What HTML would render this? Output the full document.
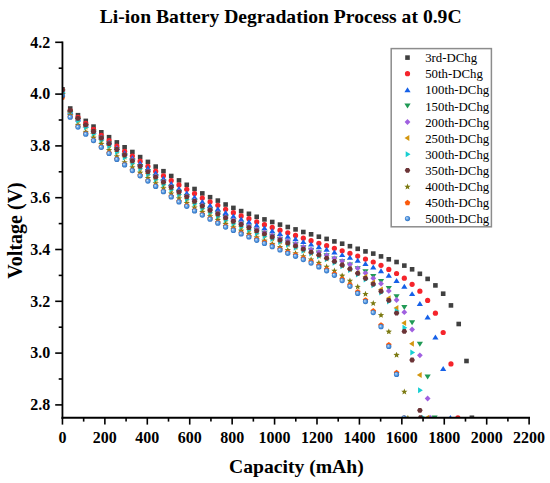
<!DOCTYPE html>
<html><head><meta charset="utf-8"><style>
html,body{margin:0;padding:0;background:#fff;}
svg{display:block;}
.tt{font-family:"Liberation Serif",serif;font-weight:bold;font-size:20px;fill:#000;}
.t1{font-family:"Liberation Serif",serif;font-weight:bold;font-size:19.65px;fill:#000;}
.tl{font-family:"Liberation Serif",serif;font-weight:bold;font-size:16px;fill:#000;}
.lt{font-family:"Liberation Serif",serif;font-size:12.8px;fill:#000;}
</style></head><body>
<svg width="550" height="483" viewBox="0 0 550 483">
<defs>
<clipPath id="pc"><rect x="62.45" y="0" width="480" height="417.60"/></clipPath>
<radialGradient id="ball" cx="0.5" cy="0.5" r="0.55" fx="0.36" fy="0.36"><stop offset="0" stop-color="#f2f8ff"/><stop offset="0.3" stop-color="#7fb2ea"/><stop offset="0.7" stop-color="#3f86d6"/><stop offset="1" stop-color="#2e6cb5"/></radialGradient>
</defs>
<rect width="550" height="483" fill="#fff"/>
<g clip-path="url(#pc)"><rect x="60.15" y="87.00" width="4.60" height="4.60" fill="#404040"/><rect x="67.92" y="106.20" width="4.60" height="4.60" fill="#404040"/><rect x="75.69" y="112.90" width="4.60" height="4.60" fill="#404040"/><rect x="83.46" y="118.60" width="4.60" height="4.60" fill="#404040"/><rect x="91.23" y="124.30" width="4.60" height="4.60" fill="#404040"/><rect x="99.00" y="130.00" width="4.60" height="4.60" fill="#404040"/><rect x="106.77" y="134.90" width="4.60" height="4.60" fill="#404040"/><rect x="114.54" y="140.10" width="4.60" height="4.60" fill="#404040"/><rect x="122.31" y="145.00" width="4.60" height="4.60" fill="#404040"/><rect x="130.08" y="149.70" width="4.60" height="4.60" fill="#404040"/><rect x="137.85" y="154.80" width="4.60" height="4.60" fill="#404040"/><rect x="145.62" y="159.60" width="4.60" height="4.60" fill="#404040"/><rect x="153.39" y="164.30" width="4.60" height="4.60" fill="#404040"/><rect x="161.16" y="168.90" width="4.60" height="4.60" fill="#404040"/><rect x="168.93" y="173.70" width="4.60" height="4.60" fill="#404040"/><rect x="176.70" y="178.10" width="4.60" height="4.60" fill="#404040"/><rect x="184.47" y="182.50" width="4.60" height="4.60" fill="#404040"/><rect x="192.24" y="186.70" width="4.60" height="4.60" fill="#404040"/><rect x="200.01" y="191.10" width="4.60" height="4.60" fill="#404040"/><rect x="207.78" y="194.90" width="4.60" height="4.60" fill="#404040"/><rect x="215.55" y="198.30" width="4.60" height="4.60" fill="#404040"/><rect x="223.32" y="202.20" width="4.60" height="4.60" fill="#404040"/><rect x="231.09" y="205.60" width="4.60" height="4.60" fill="#404040"/><rect x="238.86" y="208.80" width="4.60" height="4.60" fill="#404040"/><rect x="246.63" y="211.50" width="4.60" height="4.60" fill="#404040"/><rect x="254.40" y="214.50" width="4.60" height="4.60" fill="#404040"/><rect x="262.17" y="217.10" width="4.60" height="4.60" fill="#404040"/><rect x="269.94" y="219.70" width="4.60" height="4.60" fill="#404040"/><rect x="277.71" y="222.30" width="4.60" height="4.60" fill="#404040"/><rect x="285.48" y="224.70" width="4.60" height="4.60" fill="#404040"/><rect x="293.25" y="227.10" width="4.60" height="4.60" fill="#404040"/><rect x="301.02" y="229.70" width="4.60" height="4.60" fill="#404040"/><rect x="308.79" y="232.00" width="4.60" height="4.60" fill="#404040"/><rect x="316.56" y="234.40" width="4.60" height="4.60" fill="#404040"/><rect x="324.33" y="236.60" width="4.60" height="4.60" fill="#404040"/><rect x="332.10" y="239.10" width="4.60" height="4.60" fill="#404040"/><rect x="339.87" y="241.40" width="4.60" height="4.60" fill="#404040"/><rect x="347.64" y="243.90" width="4.60" height="4.60" fill="#404040"/><rect x="355.41" y="246.50" width="4.60" height="4.60" fill="#404040"/><rect x="363.18" y="249.10" width="4.60" height="4.60" fill="#404040"/><rect x="370.95" y="251.30" width="4.60" height="4.60" fill="#404040"/><rect x="378.72" y="254.10" width="4.60" height="4.60" fill="#404040"/><rect x="386.49" y="257.00" width="4.60" height="4.60" fill="#404040"/><rect x="394.26" y="259.70" width="4.60" height="4.60" fill="#404040"/><rect x="402.03" y="263.30" width="4.60" height="4.60" fill="#404040"/><rect x="409.80" y="267.00" width="4.60" height="4.60" fill="#404040"/><rect x="417.57" y="271.50" width="4.60" height="4.60" fill="#404040"/><rect x="425.34" y="276.60" width="4.60" height="4.60" fill="#404040"/><rect x="433.11" y="283.10" width="4.60" height="4.60" fill="#404040"/><rect x="440.88" y="291.40" width="4.60" height="4.60" fill="#404040"/><rect x="448.65" y="303.10" width="4.60" height="4.60" fill="#404040"/><rect x="456.42" y="321.70" width="4.60" height="4.60" fill="#404040"/><rect x="464.19" y="358.70" width="4.60" height="4.60" fill="#404040"/><rect x="469.60" y="415.45" width="4.60" height="4.60" fill="#404040"/><circle cx="62.45" cy="90.30" r="2.60" fill="#f5242b"/><circle cx="70.22" cy="110.50" r="2.60" fill="#f5242b"/><circle cx="77.99" cy="117.45" r="2.60" fill="#f5242b"/><circle cx="85.76" cy="123.40" r="2.60" fill="#f5242b"/><circle cx="93.53" cy="129.40" r="2.60" fill="#f5242b"/><circle cx="101.30" cy="135.40" r="2.60" fill="#f5242b"/><circle cx="109.07" cy="140.60" r="2.60" fill="#f5242b"/><circle cx="116.84" cy="146.10" r="2.60" fill="#f5242b"/><circle cx="124.61" cy="151.30" r="2.60" fill="#f5242b"/><circle cx="132.38" cy="156.05" r="2.60" fill="#f5242b"/><circle cx="140.15" cy="161.20" r="2.60" fill="#f5242b"/><circle cx="147.92" cy="166.25" r="2.60" fill="#f5242b"/><circle cx="155.69" cy="171.20" r="2.60" fill="#f5242b"/><circle cx="163.46" cy="175.77" r="2.60" fill="#f5242b"/><circle cx="171.23" cy="180.53" r="2.60" fill="#f5242b"/><circle cx="179.00" cy="184.90" r="2.60" fill="#f5242b"/><circle cx="186.77" cy="189.34" r="2.60" fill="#f5242b"/><circle cx="194.54" cy="193.58" r="2.60" fill="#f5242b"/><circle cx="202.31" cy="198.02" r="2.60" fill="#f5242b"/><circle cx="210.08" cy="201.86" r="2.60" fill="#f5242b"/><circle cx="217.85" cy="205.30" r="2.60" fill="#f5242b"/><circle cx="225.62" cy="209.25" r="2.60" fill="#f5242b"/><circle cx="233.39" cy="212.70" r="2.60" fill="#f5242b"/><circle cx="241.16" cy="215.95" r="2.60" fill="#f5242b"/><circle cx="248.93" cy="218.70" r="2.60" fill="#f5242b"/><circle cx="256.70" cy="221.88" r="2.60" fill="#f5242b"/><circle cx="264.47" cy="224.66" r="2.60" fill="#f5242b"/><circle cx="272.24" cy="227.44" r="2.60" fill="#f5242b"/><circle cx="280.01" cy="230.22" r="2.60" fill="#f5242b"/><circle cx="287.78" cy="232.80" r="2.60" fill="#f5242b"/><circle cx="295.55" cy="235.40" r="2.60" fill="#f5242b"/><circle cx="303.32" cy="238.20" r="2.60" fill="#f5242b"/><circle cx="311.09" cy="240.70" r="2.60" fill="#f5242b"/><circle cx="318.86" cy="243.30" r="2.60" fill="#f5242b"/><circle cx="326.63" cy="245.65" r="2.60" fill="#f5242b"/><circle cx="334.40" cy="248.30" r="2.60" fill="#f5242b"/><circle cx="342.17" cy="250.75" r="2.60" fill="#f5242b"/><circle cx="349.94" cy="253.40" r="2.60" fill="#f5242b"/><circle cx="357.71" cy="256.10" r="2.60" fill="#f5242b"/><circle cx="365.48" cy="259.10" r="2.60" fill="#f5242b"/><circle cx="373.25" cy="262.00" r="2.60" fill="#f5242b"/><circle cx="381.02" cy="265.30" r="2.60" fill="#f5242b"/><circle cx="388.79" cy="269.40" r="2.60" fill="#f5242b"/><circle cx="396.56" cy="273.50" r="2.60" fill="#f5242b"/><circle cx="404.33" cy="278.20" r="2.60" fill="#f5242b"/><circle cx="412.10" cy="284.30" r="2.60" fill="#f5242b"/><circle cx="419.87" cy="291.20" r="2.60" fill="#f5242b"/><circle cx="427.64" cy="300.40" r="2.60" fill="#f5242b"/><circle cx="435.41" cy="313.20" r="2.60" fill="#f5242b"/><circle cx="443.18" cy="332.50" r="2.60" fill="#f5242b"/><circle cx="450.95" cy="363.90" r="2.60" fill="#f5242b"/><circle cx="457.90" cy="417.75" r="2.60" fill="#f5242b"/><path d="M62.45 88.66L65.55 93.62L59.35 93.62Z" fill="#1560e8"/><path d="M70.22 109.36L73.32 114.33L67.12 114.33Z" fill="#1560e8"/><path d="M77.99 116.44L81.09 121.40L74.89 121.40Z" fill="#1560e8"/><path d="M85.76 122.52L88.86 127.48L82.66 127.48Z" fill="#1560e8"/><path d="M93.53 128.59L96.63 133.55L90.43 133.55Z" fill="#1560e8"/><path d="M101.30 134.67L104.40 139.62L98.20 139.62Z" fill="#1560e8"/><path d="M109.07 139.76L112.17 144.72L105.97 144.72Z" fill="#1560e8"/><path d="M116.84 145.17L119.94 150.12L113.74 150.12Z" fill="#1560e8"/><path d="M124.61 150.27L127.71 155.22L121.51 155.22Z" fill="#1560e8"/><path d="M132.38 155.17L135.48 160.12L129.28 160.12Z" fill="#1560e8"/><path d="M140.15 160.47L143.25 165.42L137.05 165.42Z" fill="#1560e8"/><path d="M147.92 165.57L151.02 170.53L144.82 170.53Z" fill="#1560e8"/><path d="M155.69 170.56L158.79 175.52L152.59 175.52Z" fill="#1560e8"/><path d="M163.46 175.70L166.56 180.66L160.36 180.66Z" fill="#1560e8"/><path d="M171.23 181.03L174.33 185.99L168.13 185.99Z" fill="#1560e8"/><path d="M179.00 185.97L182.10 190.92L175.90 190.92Z" fill="#1560e8"/><path d="M186.77 190.39L189.87 195.34L183.67 195.34Z" fill="#1560e8"/><path d="M194.54 194.61L197.64 199.56L191.44 199.56Z" fill="#1560e8"/><path d="M202.31 199.03L205.41 203.98L199.21 203.98Z" fill="#1560e8"/><path d="M210.08 202.84L213.18 207.80L206.98 207.80Z" fill="#1560e8"/><path d="M217.85 206.27L220.95 211.22L214.75 211.22Z" fill="#1560e8"/><path d="M225.62 210.12L228.72 215.07L222.52 215.07Z" fill="#1560e8"/><path d="M233.39 213.47L236.49 218.42L230.29 218.42Z" fill="#1560e8"/><path d="M241.16 216.62L244.26 221.57L238.06 221.57Z" fill="#1560e8"/><path d="M248.93 219.27L252.03 224.22L245.83 224.22Z" fill="#1560e8"/><path d="M256.70 222.53L259.80 227.49L253.60 227.49Z" fill="#1560e8"/><path d="M264.47 225.39L267.57 230.34L261.37 230.34Z" fill="#1560e8"/><path d="M272.24 228.25L275.34 233.20L269.14 233.20Z" fill="#1560e8"/><path d="M280.01 231.11L283.11 236.06L276.91 236.06Z" fill="#1560e8"/><path d="M287.78 233.77L290.88 238.72L284.68 238.72Z" fill="#1560e8"/><path d="M295.55 236.37L298.65 241.32L292.45 241.32Z" fill="#1560e8"/><path d="M303.32 239.17L306.42 244.12L300.22 244.12Z" fill="#1560e8"/><path d="M311.09 241.67L314.19 246.62L307.99 246.62Z" fill="#1560e8"/><path d="M318.86 244.26L321.96 249.22L315.76 249.22Z" fill="#1560e8"/><path d="M326.63 246.77L329.73 251.72L323.53 251.72Z" fill="#1560e8"/><path d="M334.40 249.57L337.50 254.53L331.30 254.53Z" fill="#1560e8"/><path d="M342.17 252.16L345.27 257.12L339.07 257.12Z" fill="#1560e8"/><path d="M349.94 254.87L353.04 259.82L346.84 259.82Z" fill="#1560e8"/><path d="M357.71 257.76L360.81 262.72L354.61 262.72Z" fill="#1560e8"/><path d="M365.48 260.97L368.58 265.93L362.38 265.93Z" fill="#1560e8"/><path d="M373.25 264.47L376.35 269.43L370.15 269.43Z" fill="#1560e8"/><path d="M381.02 268.37L384.12 273.32L377.92 273.32Z" fill="#1560e8"/><path d="M388.79 272.76L391.89 277.72L385.69 277.72Z" fill="#1560e8"/><path d="M396.56 277.97L399.66 282.93L393.46 282.93Z" fill="#1560e8"/><path d="M404.33 283.76L407.43 288.72L401.23 288.72Z" fill="#1560e8"/><path d="M412.10 291.17L415.20 296.12L409.00 296.12Z" fill="#1560e8"/><path d="M419.87 301.06L422.97 306.02L416.77 306.02Z" fill="#1560e8"/><path d="M427.64 314.56L430.74 319.52L424.54 319.52Z" fill="#1560e8"/><path d="M435.41 334.56L438.51 339.52L432.31 339.52Z" fill="#1560e8"/><path d="M443.18 366.06L446.28 371.02L440.08 371.02Z" fill="#1560e8"/><path d="M450.40 415.12L453.50 420.07L447.30 420.07Z" fill="#1560e8"/><path d="M62.45 94.53L65.55 89.57L59.35 89.57Z" fill="#209a55"/><path d="M70.22 115.94L73.32 110.97L67.12 110.97Z" fill="#209a55"/><path d="M77.99 122.89L81.09 117.92L74.89 117.92Z" fill="#209a55"/><path d="M85.76 128.84L88.86 123.88L82.66 123.88Z" fill="#209a55"/><path d="M93.53 134.78L96.63 129.83L90.43 129.83Z" fill="#209a55"/><path d="M101.30 140.74L104.40 135.78L98.20 135.78Z" fill="#209a55"/><path d="M109.07 146.33L112.17 141.38L105.97 141.38Z" fill="#209a55"/><path d="M116.84 152.23L119.94 147.28L113.74 147.28Z" fill="#209a55"/><path d="M124.61 157.84L127.71 152.88L121.51 152.88Z" fill="#209a55"/><path d="M132.38 163.23L135.48 158.28L129.28 158.28Z" fill="#209a55"/><path d="M140.15 169.03L143.25 164.08L137.05 164.08Z" fill="#209a55"/><path d="M147.92 174.29L151.02 169.34L144.82 169.34Z" fill="#209a55"/><path d="M155.69 179.45L158.79 174.50L152.59 174.50Z" fill="#209a55"/><path d="M163.46 184.51L166.56 179.56L160.36 179.56Z" fill="#209a55"/><path d="M171.23 189.77L174.33 184.81L168.13 184.81Z" fill="#209a55"/><path d="M179.00 194.63L182.10 189.68L175.90 189.68Z" fill="#209a55"/><path d="M186.77 199.31L189.87 194.36L183.67 194.36Z" fill="#209a55"/><path d="M194.54 203.79L197.64 198.84L191.44 198.84Z" fill="#209a55"/><path d="M202.31 208.47L205.41 203.52L199.21 203.52Z" fill="#209a55"/><path d="M210.08 212.55L213.18 207.59L206.98 207.59Z" fill="#209a55"/><path d="M217.85 216.23L220.95 211.28L214.75 211.28Z" fill="#209a55"/><path d="M225.62 220.07L228.72 215.11L222.52 215.11Z" fill="#209a55"/><path d="M233.39 223.40L236.49 218.44L230.29 218.44Z" fill="#209a55"/><path d="M241.16 226.53L244.26 221.58L238.06 221.58Z" fill="#209a55"/><path d="M248.93 229.44L252.03 224.48L245.83 224.48Z" fill="#209a55"/><path d="M256.70 232.63L259.80 227.68L253.60 227.68Z" fill="#209a55"/><path d="M264.47 235.63L267.57 230.68L261.37 230.68Z" fill="#209a55"/><path d="M272.24 238.63L275.34 233.68L269.14 233.68Z" fill="#209a55"/><path d="M280.01 241.63L283.11 236.68L276.91 236.68Z" fill="#209a55"/><path d="M287.78 244.44L290.88 239.48L284.68 239.48Z" fill="#209a55"/><path d="M295.55 247.19L298.65 242.23L292.45 242.23Z" fill="#209a55"/><path d="M303.32 250.13L306.42 245.18L300.22 245.18Z" fill="#209a55"/><path d="M311.09 252.78L314.19 247.83L307.99 247.83Z" fill="#209a55"/><path d="M318.86 255.53L321.96 250.57L315.76 250.57Z" fill="#209a55"/><path d="M326.63 258.29L329.73 253.33L323.53 253.33Z" fill="#209a55"/><path d="M334.40 261.33L337.50 256.38L331.30 256.38Z" fill="#209a55"/><path d="M342.17 264.23L345.27 259.27L339.07 259.27Z" fill="#209a55"/><path d="M349.94 267.53L353.04 262.57L346.84 262.57Z" fill="#209a55"/><path d="M357.71 271.24L360.81 266.28L354.61 266.28Z" fill="#209a55"/><path d="M365.48 274.13L368.58 269.18L362.38 269.18Z" fill="#209a55"/><path d="M373.25 278.83L376.35 273.88L370.15 273.88Z" fill="#209a55"/><path d="M381.02 284.03L384.12 279.07L377.92 279.07Z" fill="#209a55"/><path d="M388.79 290.83L391.89 285.88L385.69 285.88Z" fill="#209a55"/><path d="M396.56 299.24L399.66 294.28L393.46 294.28Z" fill="#209a55"/><path d="M404.33 310.03L407.43 305.07L401.23 305.07Z" fill="#209a55"/><path d="M412.10 325.24L415.20 320.28L409.00 320.28Z" fill="#209a55"/><path d="M419.87 346.63L422.97 341.68L416.77 341.68Z" fill="#209a55"/><path d="M427.64 379.53L430.74 374.57L424.54 374.57Z" fill="#209a55"/><path d="M434.60 420.38L437.70 415.43L431.50 415.43Z" fill="#209a55"/><path d="M62.45 88.40L65.35 91.30L62.45 94.20L59.55 91.30Z" fill="#a060e0"/><path d="M70.22 109.80L73.12 112.70L70.22 115.60L67.32 112.70Z" fill="#a060e0"/><path d="M77.99 116.75L80.89 119.65L77.99 122.55L75.09 119.65Z" fill="#a060e0"/><path d="M85.76 122.70L88.66 125.60L85.76 128.50L82.86 125.60Z" fill="#a060e0"/><path d="M93.53 128.65L96.43 131.55L93.53 134.45L90.63 131.55Z" fill="#a060e0"/><path d="M101.30 134.60L104.20 137.50L101.30 140.40L98.40 137.50Z" fill="#a060e0"/><path d="M109.07 140.20L111.97 143.10L109.07 146.00L106.17 143.10Z" fill="#a060e0"/><path d="M116.84 146.10L119.74 149.00L116.84 151.90L113.94 149.00Z" fill="#a060e0"/><path d="M124.61 151.70L127.51 154.60L124.61 157.50L121.71 154.60Z" fill="#a060e0"/><path d="M132.38 157.10L135.28 160.00L132.38 162.90L129.48 160.00Z" fill="#a060e0"/><path d="M140.15 162.90L143.05 165.80L140.15 168.70L137.25 165.80Z" fill="#a060e0"/><path d="M147.92 168.16L150.82 171.06L147.92 173.96L145.02 171.06Z" fill="#a060e0"/><path d="M155.69 173.32L158.59 176.22L155.69 179.12L152.79 176.22Z" fill="#a060e0"/><path d="M163.46 178.38L166.36 181.28L163.46 184.18L160.56 181.28Z" fill="#a060e0"/><path d="M171.23 183.64L174.13 186.54L171.23 189.44L168.33 186.54Z" fill="#a060e0"/><path d="M179.00 188.50L181.90 191.40L179.00 194.30L176.10 191.40Z" fill="#a060e0"/><path d="M186.77 193.18L189.67 196.08L186.77 198.98L183.87 196.08Z" fill="#a060e0"/><path d="M194.54 197.66L197.44 200.56L194.54 203.46L191.64 200.56Z" fill="#a060e0"/><path d="M202.31 202.34L205.21 205.24L202.31 208.14L199.41 205.24Z" fill="#a060e0"/><path d="M210.08 206.42L212.98 209.32L210.08 212.22L207.18 209.32Z" fill="#a060e0"/><path d="M217.85 210.10L220.75 213.00L217.85 215.90L214.95 213.00Z" fill="#a060e0"/><path d="M225.62 213.93L228.52 216.83L225.62 219.73L222.72 216.83Z" fill="#a060e0"/><path d="M233.39 217.27L236.29 220.17L233.39 223.07L230.49 220.17Z" fill="#a060e0"/><path d="M241.16 220.40L244.06 223.30L241.16 226.20L238.26 223.30Z" fill="#a060e0"/><path d="M248.93 223.30L251.83 226.20L248.93 229.10L246.03 226.20Z" fill="#a060e0"/><path d="M256.70 226.50L259.60 229.40L256.70 232.30L253.80 229.40Z" fill="#a060e0"/><path d="M264.47 229.50L267.37 232.40L264.47 235.30L261.57 232.40Z" fill="#a060e0"/><path d="M272.24 232.50L275.14 235.40L272.24 238.30L269.34 235.40Z" fill="#a060e0"/><path d="M280.01 235.50L282.91 238.40L280.01 241.30L277.11 238.40Z" fill="#a060e0"/><path d="M287.78 238.30L290.68 241.20L287.78 244.10L284.88 241.20Z" fill="#a060e0"/><path d="M295.55 241.05L298.45 243.95L295.55 246.85L292.65 243.95Z" fill="#a060e0"/><path d="M303.32 244.00L306.22 246.90L303.32 249.80L300.42 246.90Z" fill="#a060e0"/><path d="M311.09 246.65L313.99 249.55L311.09 252.45L308.19 249.55Z" fill="#a060e0"/><path d="M318.86 249.40L321.76 252.30L318.86 255.20L315.96 252.30Z" fill="#a060e0"/><path d="M326.63 252.25L329.53 255.15L326.63 258.05L323.73 255.15Z" fill="#a060e0"/><path d="M334.40 255.40L337.30 258.30L334.40 261.20L331.50 258.30Z" fill="#a060e0"/><path d="M342.17 258.30L345.07 261.20L342.17 264.10L339.27 261.20Z" fill="#a060e0"/><path d="M349.94 261.60L352.84 264.50L349.94 267.40L347.04 264.50Z" fill="#a060e0"/><path d="M357.71 265.40L360.61 268.30L357.71 271.20L354.81 268.30Z" fill="#a060e0"/><path d="M365.48 270.20L368.38 273.10L365.48 276.00L362.58 273.10Z" fill="#a060e0"/><path d="M373.25 275.40L376.15 278.30L373.25 281.20L370.35 278.30Z" fill="#a060e0"/><path d="M381.02 280.80L383.92 283.70L381.02 286.60L378.12 283.70Z" fill="#a060e0"/><path d="M388.79 288.00L391.69 290.90L388.79 293.80L385.89 290.90Z" fill="#a060e0"/><path d="M396.56 297.10L399.46 300.00L396.56 302.90L393.66 300.00Z" fill="#a060e0"/><path d="M404.33 309.30L407.23 312.20L404.33 315.10L401.43 312.20Z" fill="#a060e0"/><path d="M412.10 326.60L415.00 329.50L412.10 332.40L409.20 329.50Z" fill="#a060e0"/><path d="M419.87 352.40L422.77 355.30L419.87 358.20L416.97 355.30Z" fill="#a060e0"/><path d="M427.64 395.60L430.54 398.50L427.64 401.40L424.74 398.50Z" fill="#a060e0"/><path d="M430.10 414.85L433.00 417.75L430.10 420.65L427.20 417.75Z" fill="#a060e0"/><path d="M59.45 91.90L64.25 88.90L64.25 94.90Z" fill="#d3960f"/><path d="M67.22 112.20L72.02 109.20L72.02 115.20Z" fill="#d3960f"/><path d="M74.99 120.10L79.79 117.10L79.79 123.10Z" fill="#d3960f"/><path d="M82.76 126.70L87.56 123.70L87.56 129.70Z" fill="#d3960f"/><path d="M90.53 133.30L95.33 130.30L95.33 136.30Z" fill="#d3960f"/><path d="M98.30 139.80L103.10 136.80L103.10 142.80Z" fill="#d3960f"/><path d="M106.07 145.40L110.87 142.40L110.87 148.40Z" fill="#d3960f"/><path d="M113.84 151.30L118.64 148.30L118.64 154.30Z" fill="#d3960f"/><path d="M121.61 156.80L126.41 153.80L126.41 159.80Z" fill="#d3960f"/><path d="M129.38 162.70L134.18 159.70L134.18 165.70Z" fill="#d3960f"/><path d="M137.15 168.10L141.95 165.10L141.95 171.10Z" fill="#d3960f"/><path d="M144.92 173.60L149.72 170.60L149.72 176.60Z" fill="#d3960f"/><path d="M152.69 179.00L157.49 176.00L157.49 182.00Z" fill="#d3960f"/><path d="M160.46 183.97L165.26 180.97L165.26 186.97Z" fill="#d3960f"/><path d="M168.23 189.13L173.03 186.13L173.03 192.13Z" fill="#d3960f"/><path d="M176.00 193.90L180.80 190.90L180.80 196.90Z" fill="#d3960f"/><path d="M183.77 198.64L188.57 195.64L188.57 201.64Z" fill="#d3960f"/><path d="M191.54 203.18L196.34 200.18L196.34 206.18Z" fill="#d3960f"/><path d="M199.31 207.92L204.11 204.92L204.11 210.92Z" fill="#d3960f"/><path d="M207.08 212.06L211.88 209.06L211.88 215.06Z" fill="#d3960f"/><path d="M214.85 215.80L219.65 212.80L219.65 218.80Z" fill="#d3960f"/><path d="M222.62 219.70L227.42 216.70L227.42 222.70Z" fill="#d3960f"/><path d="M230.39 223.10L235.19 220.10L235.19 226.10Z" fill="#d3960f"/><path d="M238.16 226.30L242.96 223.30L242.96 229.30Z" fill="#d3960f"/><path d="M245.93 229.40L250.73 226.40L250.73 232.40Z" fill="#d3960f"/><path d="M253.70 232.60L258.50 229.60L258.50 235.60Z" fill="#d3960f"/><path d="M261.47 235.58L266.27 232.58L266.27 238.58Z" fill="#d3960f"/><path d="M269.24 238.55L274.04 235.55L274.04 241.55Z" fill="#d3960f"/><path d="M277.01 241.53L281.81 238.53L281.81 244.53Z" fill="#d3960f"/><path d="M284.78 244.30L289.58 241.30L289.58 247.30Z" fill="#d3960f"/><path d="M292.55 247.12L297.35 244.12L297.35 250.12Z" fill="#d3960f"/><path d="M300.32 250.15L305.12 247.15L305.12 253.15Z" fill="#d3960f"/><path d="M308.09 252.88L312.89 249.88L312.89 255.88Z" fill="#d3960f"/><path d="M315.86 255.70L320.66 252.70L320.66 258.70Z" fill="#d3960f"/><path d="M323.63 258.50L328.43 255.50L328.43 261.50Z" fill="#d3960f"/><path d="M331.40 261.60L336.20 258.60L336.20 264.60Z" fill="#d3960f"/><path d="M339.17 265.23L343.97 262.23L343.97 268.23Z" fill="#d3960f"/><path d="M346.94 269.07L351.74 266.07L351.74 272.07Z" fill="#d3960f"/><path d="M354.71 273.00L359.51 270.00L359.51 276.00Z" fill="#d3960f"/><path d="M362.48 276.80L367.28 273.80L367.28 279.80Z" fill="#d3960f"/><path d="M370.25 282.60L375.05 279.60L375.05 285.60Z" fill="#d3960f"/><path d="M378.02 289.60L382.82 286.60L382.82 292.60Z" fill="#d3960f"/><path d="M385.79 298.30L390.59 295.30L390.59 301.30Z" fill="#d3960f"/><path d="M393.56 308.10L398.36 305.10L398.36 311.10Z" fill="#d3960f"/><path d="M401.33 322.90L406.13 319.90L406.13 325.90Z" fill="#d3960f"/><path d="M409.10 343.70L413.90 340.70L413.90 346.70Z" fill="#d3960f"/><path d="M416.87 374.90L421.67 371.90L421.67 377.90Z" fill="#d3960f"/><path d="M424.40 417.75L429.20 414.75L429.20 420.75Z" fill="#d3960f"/><path d="M65.45 92.50L60.65 89.50L60.65 95.50Z" fill="#17cfd2"/><path d="M73.22 112.80L68.42 109.80L68.42 115.80Z" fill="#17cfd2"/><path d="M80.99 120.70L76.19 117.70L76.19 123.70Z" fill="#17cfd2"/><path d="M88.76 127.30L83.96 124.30L83.96 130.30Z" fill="#17cfd2"/><path d="M96.53 133.90L91.73 130.90L91.73 136.90Z" fill="#17cfd2"/><path d="M104.30 140.40L99.50 137.40L99.50 143.40Z" fill="#17cfd2"/><path d="M112.07 146.00L107.27 143.00L107.27 149.00Z" fill="#17cfd2"/><path d="M119.84 151.90L115.04 148.90L115.04 154.90Z" fill="#17cfd2"/><path d="M127.61 157.40L122.81 154.40L122.81 160.40Z" fill="#17cfd2"/><path d="M135.38 163.30L130.58 160.30L130.58 166.30Z" fill="#17cfd2"/><path d="M143.15 168.70L138.35 165.70L138.35 171.70Z" fill="#17cfd2"/><path d="M150.92 174.20L146.12 171.20L146.12 177.20Z" fill="#17cfd2"/><path d="M158.69 179.60L153.89 176.60L153.89 182.60Z" fill="#17cfd2"/><path d="M166.46 184.57L161.66 181.57L161.66 187.57Z" fill="#17cfd2"/><path d="M174.23 189.73L169.43 186.73L169.43 192.73Z" fill="#17cfd2"/><path d="M182.00 194.50L177.20 191.50L177.20 197.50Z" fill="#17cfd2"/><path d="M189.77 199.24L184.97 196.24L184.97 202.24Z" fill="#17cfd2"/><path d="M197.54 203.78L192.74 200.78L192.74 206.78Z" fill="#17cfd2"/><path d="M205.31 208.52L200.51 205.52L200.51 211.52Z" fill="#17cfd2"/><path d="M213.08 212.66L208.28 209.66L208.28 215.66Z" fill="#17cfd2"/><path d="M220.85 216.40L216.05 213.40L216.05 219.40Z" fill="#17cfd2"/><path d="M228.62 220.30L223.82 217.30L223.82 223.30Z" fill="#17cfd2"/><path d="M236.39 223.70L231.59 220.70L231.59 226.70Z" fill="#17cfd2"/><path d="M244.16 226.90L239.36 223.90L239.36 229.90Z" fill="#17cfd2"/><path d="M251.93 230.00L247.13 227.00L247.13 233.00Z" fill="#17cfd2"/><path d="M259.70 233.20L254.90 230.20L254.90 236.20Z" fill="#17cfd2"/><path d="M267.47 236.15L262.67 233.15L262.67 239.15Z" fill="#17cfd2"/><path d="M275.24 239.10L270.44 236.10L270.44 242.10Z" fill="#17cfd2"/><path d="M283.01 242.05L278.21 239.05L278.21 245.05Z" fill="#17cfd2"/><path d="M290.78 244.80L285.98 241.80L285.98 247.80Z" fill="#17cfd2"/><path d="M298.55 247.65L293.75 244.65L293.75 250.65Z" fill="#17cfd2"/><path d="M306.32 250.70L301.52 247.70L301.52 253.70Z" fill="#17cfd2"/><path d="M314.09 253.45L309.29 250.45L309.29 256.45Z" fill="#17cfd2"/><path d="M321.86 256.30L317.06 253.30L317.06 259.30Z" fill="#17cfd2"/><path d="M329.63 259.35L324.83 256.35L324.83 262.35Z" fill="#17cfd2"/><path d="M337.40 262.70L332.60 259.70L332.60 265.70Z" fill="#17cfd2"/><path d="M345.17 266.20L340.37 263.20L340.37 269.20Z" fill="#17cfd2"/><path d="M352.94 270.10L348.14 267.10L348.14 273.10Z" fill="#17cfd2"/><path d="M360.71 274.50L355.91 271.50L355.91 277.50Z" fill="#17cfd2"/><path d="M368.48 279.50L363.68 276.50L363.68 282.50Z" fill="#17cfd2"/><path d="M376.25 285.30L371.45 282.30L371.45 288.30Z" fill="#17cfd2"/><path d="M384.02 292.60L379.22 289.60L379.22 295.60Z" fill="#17cfd2"/><path d="M391.79 301.40L386.99 298.40L386.99 304.40Z" fill="#17cfd2"/><path d="M399.56 311.00L394.76 308.00L394.76 314.00Z" fill="#17cfd2"/><path d="M407.33 327.80L402.53 324.80L402.53 330.80Z" fill="#17cfd2"/><path d="M415.10 352.50L410.30 349.50L410.30 355.50Z" fill="#17cfd2"/><path d="M422.87 390.20L418.07 387.20L418.07 393.20Z" fill="#17cfd2"/><path d="M426.20 417.75L421.40 414.75L421.40 420.75Z" fill="#17cfd2"/><polygon points="65.25,90.10 63.85,92.52 61.05,92.52 59.65,90.10 61.05,87.68 63.85,87.68" fill="#6c3437"/><polygon points="73.02,110.40 71.62,112.82 68.82,112.82 67.42,110.40 68.82,107.98 71.62,107.98" fill="#6c3437"/><polygon points="80.79,118.30 79.39,120.72 76.59,120.72 75.19,118.30 76.59,115.88 79.39,115.88" fill="#6c3437"/><polygon points="88.56,124.90 87.16,127.32 84.36,127.32 82.96,124.90 84.36,122.48 87.16,122.48" fill="#6c3437"/><polygon points="96.33,131.50 94.93,133.92 92.13,133.92 90.73,131.50 92.13,129.08 94.93,129.08" fill="#6c3437"/><polygon points="104.10,138.00 102.70,140.42 99.90,140.42 98.50,138.00 99.90,135.58 102.70,135.58" fill="#6c3437"/><polygon points="111.87,143.60 110.47,146.02 107.67,146.02 106.27,143.60 107.67,141.18 110.47,141.18" fill="#6c3437"/><polygon points="119.64,149.50 118.24,151.92 115.44,151.92 114.04,149.50 115.44,147.08 118.24,147.08" fill="#6c3437"/><polygon points="127.41,155.00 126.01,157.42 123.21,157.42 121.81,155.00 123.21,152.58 126.01,152.58" fill="#6c3437"/><polygon points="135.18,160.90 133.78,163.32 130.98,163.32 129.58,160.90 130.98,158.48 133.78,158.48" fill="#6c3437"/><polygon points="142.95,166.30 141.55,168.72 138.75,168.72 137.35,166.30 138.75,163.88 141.55,163.88" fill="#6c3437"/><polygon points="150.72,171.80 149.32,174.22 146.52,174.22 145.12,171.80 146.52,169.38 149.32,169.38" fill="#6c3437"/><polygon points="158.49,177.20 157.09,179.62 154.29,179.62 152.89,177.20 154.29,174.78 157.09,174.78" fill="#6c3437"/><polygon points="166.26,182.17 164.86,184.59 162.06,184.59 160.66,182.17 162.06,179.74 164.86,179.74" fill="#6c3437"/><polygon points="174.03,187.33 172.63,189.76 169.83,189.76 168.43,187.33 169.83,184.91 172.63,184.91" fill="#6c3437"/><polygon points="181.80,192.10 180.40,194.52 177.60,194.52 176.20,192.10 177.60,189.68 180.40,189.68" fill="#6c3437"/><polygon points="189.57,196.84 188.17,199.26 185.37,199.26 183.97,196.84 185.37,194.42 188.17,194.42" fill="#6c3437"/><polygon points="197.34,201.38 195.94,203.80 193.14,203.80 191.74,201.38 193.14,198.96 195.94,198.96" fill="#6c3437"/><polygon points="205.11,206.12 203.71,208.54 200.91,208.54 199.51,206.12 200.91,203.70 203.71,203.70" fill="#6c3437"/><polygon points="212.88,210.26 211.48,212.68 208.68,212.68 207.28,210.26 208.68,207.84 211.48,207.84" fill="#6c3437"/><polygon points="220.65,214.00 219.25,216.42 216.45,216.42 215.05,214.00 216.45,211.58 219.25,211.58" fill="#6c3437"/><polygon points="228.42,217.90 227.02,220.32 224.22,220.32 222.82,217.90 224.22,215.48 227.02,215.48" fill="#6c3437"/><polygon points="236.19,221.30 234.79,223.72 231.99,223.72 230.59,221.30 231.99,218.88 234.79,218.88" fill="#6c3437"/><polygon points="243.96,224.50 242.56,226.92 239.76,226.92 238.36,224.50 239.76,222.08 242.56,222.08" fill="#6c3437"/><polygon points="251.73,227.60 250.33,230.02 247.53,230.02 246.13,227.60 247.53,225.18 250.33,225.18" fill="#6c3437"/><polygon points="259.50,230.80 258.10,233.22 255.30,233.22 253.90,230.80 255.30,228.38 258.10,228.38" fill="#6c3437"/><polygon points="267.27,233.90 265.87,236.32 263.07,236.32 261.67,233.90 263.07,231.48 265.87,231.48" fill="#6c3437"/><polygon points="275.04,237.00 273.64,239.42 270.84,239.42 269.44,237.00 270.84,234.58 273.64,234.58" fill="#6c3437"/><polygon points="282.81,240.10 281.41,242.52 278.61,242.52 277.21,240.10 278.61,237.68 281.41,237.68" fill="#6c3437"/><polygon points="290.58,243.00 289.18,245.42 286.38,245.42 284.98,243.00 286.38,240.58 289.18,240.58" fill="#6c3437"/><polygon points="298.35,245.90 296.95,248.32 294.15,248.32 292.75,245.90 294.15,243.48 296.95,243.48" fill="#6c3437"/><polygon points="306.12,249.10 304.72,251.52 301.92,251.52 300.52,249.10 301.92,246.68 304.72,246.68" fill="#6c3437"/><polygon points="313.89,252.20 312.49,254.62 309.69,254.62 308.29,252.20 309.69,249.78 312.49,249.78" fill="#6c3437"/><polygon points="321.66,254.90 320.26,257.32 317.46,257.32 316.06,254.90 317.46,252.48 320.26,252.48" fill="#6c3437"/><polygon points="329.43,258.20 328.03,260.62 325.23,260.62 323.83,258.20 325.23,255.78 328.03,255.78" fill="#6c3437"/><polygon points="337.20,261.40 335.80,263.82 333.00,263.82 331.60,261.40 333.00,258.98 335.80,258.98" fill="#6c3437"/><polygon points="344.97,265.00 343.57,267.42 340.77,267.42 339.37,265.00 340.77,262.58 343.57,262.58" fill="#6c3437"/><polygon points="352.74,268.90 351.34,271.32 348.54,271.32 347.14,268.90 348.54,266.48 351.34,266.48" fill="#6c3437"/><polygon points="360.51,273.30 359.11,275.72 356.31,275.72 354.91,273.30 356.31,270.88 359.11,270.88" fill="#6c3437"/><polygon points="368.28,278.30 366.88,280.72 364.08,280.72 362.68,278.30 364.08,275.88 366.88,275.88" fill="#6c3437"/><polygon points="376.05,284.10 374.65,286.52 371.85,286.52 370.45,284.10 371.85,281.68 374.65,281.68" fill="#6c3437"/><polygon points="383.82,291.30 382.42,293.72 379.62,293.72 378.22,291.30 379.62,288.88 382.42,288.88" fill="#6c3437"/><polygon points="391.59,300.30 390.19,302.72 387.39,302.72 385.99,300.30 387.39,297.88 390.19,297.88" fill="#6c3437"/><polygon points="399.36,313.10 397.96,315.52 395.16,315.52 393.76,313.10 395.16,310.68 397.96,310.68" fill="#6c3437"/><polygon points="407.13,331.40 405.73,333.82 402.93,333.82 401.53,331.40 402.93,328.98 405.73,328.98" fill="#6c3437"/><polygon points="414.90,360.00 413.50,362.42 410.70,362.42 409.30,360.00 410.70,357.58 413.50,357.58" fill="#6c3437"/><polygon points="422.67,410.30 421.27,412.72 418.47,412.72 417.07,410.30 418.47,407.88 421.27,407.88" fill="#6c3437"/><polygon points="423.30,417.75 421.90,420.17 419.10,420.17 417.70,417.75 419.10,415.33 421.90,415.33" fill="#6c3437"/><polygon points="62.45,90.90 63.30,93.03 65.59,93.18 63.83,94.65 64.39,96.87 62.45,95.65 60.51,96.87 61.07,94.65 59.31,93.18 61.60,93.03" fill="#7c7a12"/><polygon points="70.22,111.90 71.07,114.03 73.36,114.18 71.60,115.65 72.16,117.87 70.22,116.65 68.28,117.87 68.84,115.65 67.08,114.18 69.37,114.03" fill="#7c7a12"/><polygon points="77.99,121.70 78.84,123.83 81.13,123.98 79.37,125.45 79.93,127.67 77.99,126.45 76.05,127.67 76.61,125.45 74.85,123.98 77.14,123.83" fill="#7c7a12"/><polygon points="85.76,128.60 86.61,130.73 88.90,130.88 87.14,132.35 87.70,134.57 85.76,133.35 83.82,134.57 84.38,132.35 82.62,130.88 84.91,130.73" fill="#7c7a12"/><polygon points="93.53,134.40 94.38,136.53 96.67,136.68 94.91,138.15 95.47,140.37 93.53,139.15 91.59,140.37 92.15,138.15 90.39,136.68 92.68,136.53" fill="#7c7a12"/><polygon points="101.30,140.70 102.15,142.83 104.44,142.98 102.68,144.45 103.24,146.67 101.30,145.45 99.36,146.67 99.92,144.45 98.16,142.98 100.45,142.83" fill="#7c7a12"/><polygon points="109.07,146.90 109.92,149.03 112.21,149.18 110.45,150.65 111.01,152.87 109.07,151.65 107.13,152.87 107.69,150.65 105.93,149.18 108.22,149.03" fill="#7c7a12"/><polygon points="116.84,153.10 117.69,155.23 119.98,155.38 118.22,156.85 118.78,159.07 116.84,157.85 114.90,159.07 115.46,156.85 113.70,155.38 115.99,155.23" fill="#7c7a12"/><polygon points="124.61,159.10 125.46,161.23 127.75,161.38 125.99,162.85 126.55,165.07 124.61,163.85 122.67,165.07 123.23,162.85 121.47,161.38 123.76,161.23" fill="#7c7a12"/><polygon points="132.38,164.10 133.23,166.23 135.52,166.38 133.76,167.85 134.32,170.07 132.38,168.85 130.44,170.07 131.00,167.85 129.24,166.38 131.53,166.23" fill="#7c7a12"/><polygon points="140.15,169.40 141.00,171.53 143.29,171.68 141.53,173.15 142.09,175.37 140.15,174.15 138.21,175.37 138.77,173.15 137.01,171.68 139.30,171.53" fill="#7c7a12"/><polygon points="147.92,174.80 148.77,176.93 151.06,177.08 149.30,178.55 149.86,180.77 147.92,179.55 145.98,180.77 146.54,178.55 144.78,177.08 147.07,176.93" fill="#7c7a12"/><polygon points="155.69,180.00 156.54,182.13 158.83,182.28 157.07,183.75 157.63,185.97 155.69,184.75 153.75,185.97 154.31,183.75 152.55,182.28 154.84,182.13" fill="#7c7a12"/><polygon points="163.46,185.03 164.31,187.16 166.60,187.31 164.84,188.78 165.40,191.00 163.46,189.78 161.52,191.00 162.08,188.78 160.32,187.31 162.61,187.16" fill="#7c7a12"/><polygon points="171.23,190.27 172.08,192.39 174.37,192.55 172.61,194.01 173.17,196.24 171.23,195.02 169.29,196.24 169.85,194.01 168.09,192.55 170.38,192.39" fill="#7c7a12"/><polygon points="179.00,195.10 179.85,197.23 182.14,197.38 180.38,198.85 180.94,201.07 179.00,199.85 177.06,201.07 177.62,198.85 175.86,197.38 178.15,197.23" fill="#7c7a12"/><polygon points="186.77,199.78 187.62,201.91 189.91,202.06 188.15,203.53 188.71,205.75 186.77,204.53 184.83,205.75 185.39,203.53 183.63,202.06 185.92,201.91" fill="#7c7a12"/><polygon points="194.54,204.26 195.39,206.39 197.68,206.54 195.92,208.01 196.48,210.23 194.54,209.01 192.60,210.23 193.16,208.01 191.40,206.54 193.69,206.39" fill="#7c7a12"/><polygon points="202.31,208.94 203.16,211.07 205.45,211.22 203.69,212.69 204.25,214.91 202.31,213.69 200.37,214.91 200.93,212.69 199.17,211.22 201.46,211.07" fill="#7c7a12"/><polygon points="210.08,213.02 210.93,215.15 213.22,215.30 211.46,216.77 212.02,218.99 210.08,217.77 208.14,218.99 208.70,216.77 206.94,215.30 209.23,215.15" fill="#7c7a12"/><polygon points="217.85,216.70 218.70,218.83 220.99,218.98 219.23,220.45 219.79,222.67 217.85,221.45 215.91,222.67 216.47,220.45 214.71,218.98 217.00,218.83" fill="#7c7a12"/><polygon points="225.62,220.67 226.47,222.79 228.76,222.95 227.00,224.41 227.56,226.64 225.62,225.42 223.68,226.64 224.24,224.41 222.48,222.95 224.77,222.79" fill="#7c7a12"/><polygon points="233.39,224.13 234.24,226.26 236.53,226.41 234.77,227.88 235.33,230.10 233.39,228.88 231.45,230.10 232.01,227.88 230.25,226.41 232.54,226.26" fill="#7c7a12"/><polygon points="241.16,227.40 242.01,229.53 244.30,229.68 242.54,231.15 243.10,233.37 241.16,232.15 239.22,233.37 239.78,231.15 238.02,229.68 240.31,229.53" fill="#7c7a12"/><polygon points="248.93,230.60 249.78,232.73 252.07,232.88 250.31,234.35 250.87,236.57 248.93,235.35 246.99,236.57 247.55,234.35 245.79,232.88 248.08,232.73" fill="#7c7a12"/><polygon points="256.70,234.20 257.55,236.33 259.84,236.48 258.08,237.95 258.64,240.17 256.70,238.95 254.76,240.17 255.32,237.95 253.56,236.48 255.85,236.33" fill="#7c7a12"/><polygon points="264.47,237.43 265.32,239.55 267.61,239.71 265.85,241.17 266.41,243.39 264.47,242.18 262.53,243.39 263.09,241.17 261.33,239.71 263.62,239.55" fill="#7c7a12"/><polygon points="272.24,240.65 273.09,242.78 275.38,242.93 273.62,244.40 274.18,246.62 272.24,245.40 270.30,246.62 270.86,244.40 269.10,242.93 271.39,242.78" fill="#7c7a12"/><polygon points="280.01,243.88 280.86,246.00 283.15,246.16 281.39,247.62 281.95,249.84 280.01,248.62 278.07,249.84 278.63,247.62 276.87,246.16 279.16,246.00" fill="#7c7a12"/><polygon points="287.78,246.90 288.63,249.03 290.92,249.18 289.16,250.65 289.72,252.87 287.78,251.65 285.84,252.87 286.40,250.65 284.64,249.18 286.93,249.03" fill="#7c7a12"/><polygon points="295.55,250.10 296.40,252.23 298.69,252.38 296.93,253.85 297.49,256.07 295.55,254.85 293.61,256.07 294.17,253.85 292.41,252.38 294.70,252.23" fill="#7c7a12"/><polygon points="303.32,253.10 304.17,255.23 306.46,255.38 304.70,256.85 305.26,259.07 303.32,257.85 301.38,259.07 301.94,256.85 300.18,255.38 302.47,255.23" fill="#7c7a12"/><polygon points="311.09,256.30 311.94,258.43 314.23,258.58 312.47,260.05 313.03,262.27 311.09,261.05 309.15,262.27 309.71,260.05 307.95,258.58 310.24,258.43" fill="#7c7a12"/><polygon points="318.86,259.60 319.71,261.73 322.00,261.88 320.24,263.35 320.80,265.57 318.86,264.35 316.92,265.57 317.48,263.35 315.72,261.88 318.01,261.73" fill="#7c7a12"/><polygon points="326.63,263.50 327.48,265.63 329.77,265.78 328.01,267.25 328.57,269.47 326.63,268.25 324.69,269.47 325.25,267.25 323.49,265.78 325.78,265.63" fill="#7c7a12"/><polygon points="334.40,267.50 335.25,269.63 337.54,269.78 335.78,271.25 336.34,273.47 334.40,272.25 332.46,273.47 333.02,271.25 331.26,269.78 333.55,269.63" fill="#7c7a12"/><polygon points="342.17,272.40 343.02,274.53 345.31,274.68 343.55,276.15 344.11,278.37 342.17,277.15 340.23,278.37 340.79,276.15 339.03,274.68 341.32,274.53" fill="#7c7a12"/><polygon points="349.94,277.50 350.79,279.63 353.08,279.78 351.32,281.25 351.88,283.47 349.94,282.25 348.00,283.47 348.56,281.25 346.80,279.78 349.09,279.63" fill="#7c7a12"/><polygon points="357.71,283.60 358.56,285.73 360.85,285.88 359.09,287.35 359.65,289.57 357.71,288.35 355.77,289.57 356.33,287.35 354.57,285.88 356.86,285.73" fill="#7c7a12"/><polygon points="365.48,290.80 366.33,292.93 368.62,293.08 366.86,294.55 367.42,296.77 365.48,295.55 363.54,296.77 364.10,294.55 362.34,293.08 364.63,292.93" fill="#7c7a12"/><polygon points="373.25,300.00 374.10,302.13 376.39,302.28 374.63,303.75 375.19,305.97 373.25,304.75 371.31,305.97 371.87,303.75 370.11,302.28 372.40,302.13" fill="#7c7a12"/><polygon points="381.02,311.90 381.87,314.03 384.16,314.18 382.40,315.65 382.96,317.87 381.02,316.65 379.08,317.87 379.64,315.65 377.88,314.18 380.17,314.03" fill="#7c7a12"/><polygon points="388.79,328.40 389.64,330.53 391.93,330.68 390.17,332.15 390.73,334.37 388.79,333.15 386.85,334.37 387.41,332.15 385.65,330.68 387.94,330.53" fill="#7c7a12"/><polygon points="396.56,351.70 397.41,353.83 399.70,353.98 397.94,355.45 398.50,357.67 396.56,356.45 394.62,357.67 395.18,355.45 393.42,353.98 395.71,353.83" fill="#7c7a12"/><polygon points="404.33,388.50 405.18,390.63 407.47,390.78 405.71,392.25 406.27,394.47 404.33,393.25 402.39,394.47 402.95,392.25 401.19,390.78 403.48,390.63" fill="#7c7a12"/><polygon points="407.90,414.85 408.75,416.98 411.04,417.13 409.28,418.60 409.84,420.82 407.90,419.60 405.96,420.82 406.52,418.60 404.76,417.13 407.05,416.98" fill="#7c7a12"/><polygon points="62.45,94.45 65.26,96.49 64.18,99.79 60.72,99.79 59.64,96.49" fill="#fb5a0c"/><polygon points="70.22,113.75 73.03,115.79 71.95,119.09 68.49,119.09 67.41,115.79" fill="#fb5a0c"/><polygon points="77.99,123.65 80.80,125.69 79.72,128.99 76.26,128.99 75.18,125.69" fill="#fb5a0c"/><polygon points="85.76,130.75 88.57,132.79 87.49,136.09 84.03,136.09 82.95,132.79" fill="#fb5a0c"/><polygon points="93.53,137.15 96.34,139.19 95.26,142.49 91.80,142.49 90.72,139.19" fill="#fb5a0c"/><polygon points="101.30,143.85 104.11,145.89 103.03,149.19 99.57,149.19 98.49,145.89" fill="#fb5a0c"/><polygon points="109.07,150.05 111.88,152.09 110.80,155.39 107.34,155.39 106.26,152.09" fill="#fb5a0c"/><polygon points="116.84,155.95 119.65,157.99 118.57,161.29 115.11,161.29 114.03,157.99" fill="#fb5a0c"/><polygon points="124.61,161.45 127.42,163.49 126.34,166.79 122.88,166.79 121.80,163.49" fill="#fb5a0c"/><polygon points="132.38,167.15 135.19,169.19 134.11,172.49 130.65,172.49 129.57,169.19" fill="#fb5a0c"/><polygon points="140.15,172.35 142.96,174.39 141.88,177.69 138.42,177.69 137.34,174.39" fill="#fb5a0c"/><polygon points="147.92,177.63 150.73,179.67 149.65,182.97 146.19,182.97 145.11,179.67" fill="#fb5a0c"/><polygon points="155.69,182.91 158.50,184.95 157.42,188.25 153.96,188.25 152.88,184.95" fill="#fb5a0c"/><polygon points="163.46,188.19 166.27,190.23 165.19,193.53 161.73,193.53 160.65,190.23" fill="#fb5a0c"/><polygon points="171.23,193.37 174.04,195.41 172.96,198.71 169.50,198.71 168.42,195.41" fill="#fb5a0c"/><polygon points="179.00,198.35 181.81,200.39 180.73,203.69 177.27,203.69 176.19,200.39" fill="#fb5a0c"/><polygon points="186.77,202.71 189.58,204.75 188.50,208.05 185.04,208.05 183.96,204.75" fill="#fb5a0c"/><polygon points="194.54,207.27 197.35,209.31 196.27,212.61 192.81,212.61 191.73,209.31" fill="#fb5a0c"/><polygon points="202.31,211.43 205.12,213.47 204.04,216.77 200.58,216.77 199.50,213.47" fill="#fb5a0c"/><polygon points="210.08,215.49 212.89,217.53 211.81,220.83 208.35,220.83 207.27,217.53" fill="#fb5a0c"/><polygon points="217.85,219.45 220.66,221.49 219.58,224.79 216.12,224.79 215.04,221.49" fill="#fb5a0c"/><polygon points="225.62,223.31 228.43,225.35 227.35,228.65 223.89,228.65 222.81,225.35" fill="#fb5a0c"/><polygon points="233.39,226.57 236.20,228.61 235.12,231.91 231.66,231.91 230.58,228.61" fill="#fb5a0c"/><polygon points="241.16,230.03 243.97,232.07 242.89,235.37 239.43,235.37 238.35,232.07" fill="#fb5a0c"/><polygon points="248.93,233.09 251.74,235.13 250.66,238.43 247.20,238.43 246.12,235.13" fill="#fb5a0c"/><polygon points="256.70,236.35 259.51,238.39 258.43,241.69 254.97,241.69 253.89,238.39" fill="#fb5a0c"/><polygon points="264.47,239.50 267.28,241.54 266.20,244.84 262.74,244.84 261.66,241.54" fill="#fb5a0c"/><polygon points="272.24,242.65 275.05,244.69 273.97,247.99 270.51,247.99 269.43,244.69" fill="#fb5a0c"/><polygon points="280.01,245.90 282.82,247.94 281.74,251.24 278.28,251.24 277.20,247.94" fill="#fb5a0c"/><polygon points="287.78,249.25 290.59,251.29 289.51,254.59 286.05,254.59 284.97,251.29" fill="#fb5a0c"/><polygon points="295.55,252.10 298.36,254.14 297.28,257.44 293.82,257.44 292.74,254.14" fill="#fb5a0c"/><polygon points="303.32,255.35 306.13,257.39 305.05,260.69 301.59,260.69 300.51,257.39" fill="#fb5a0c"/><polygon points="311.09,258.80 313.90,260.84 312.82,264.14 309.36,264.14 308.28,260.84" fill="#fb5a0c"/><polygon points="318.86,262.55 321.67,264.59 320.59,267.89 317.13,267.89 316.05,264.59" fill="#fb5a0c"/><polygon points="326.63,266.43 329.44,268.47 328.36,271.77 324.90,271.77 323.82,268.47" fill="#fb5a0c"/><polygon points="334.40,270.91 337.21,272.95 336.13,276.25 332.67,276.25 331.59,272.95" fill="#fb5a0c"/><polygon points="342.17,276.19 344.98,278.23 343.90,281.53 340.44,281.53 339.36,278.23" fill="#fb5a0c"/><polygon points="349.94,281.87 352.75,283.91 351.67,287.21 348.21,287.21 347.13,283.91" fill="#fb5a0c"/><polygon points="357.71,288.95 360.52,290.99 359.44,294.29 355.98,294.29 354.90,290.99" fill="#fb5a0c"/><polygon points="365.48,297.13 368.29,299.17 367.21,302.47 363.75,302.47 362.67,299.17" fill="#fb5a0c"/><polygon points="373.25,308.11 376.06,310.15 374.98,313.45 371.52,313.45 370.44,310.15" fill="#fb5a0c"/><polygon points="381.02,322.19 383.83,324.23 382.75,327.53 379.29,327.53 378.21,324.23" fill="#fb5a0c"/><polygon points="388.79,341.97 391.60,344.01 390.52,347.31 387.06,347.31 385.98,344.01" fill="#fb5a0c"/><polygon points="396.56,369.85 399.37,371.89 398.29,375.19 394.83,375.19 393.75,371.89" fill="#fb5a0c"/><polygon points="404.10,415.10 406.91,417.14 405.83,420.44 402.37,420.44 401.29,417.14" fill="#fb5a0c"/><circle cx="62.45" cy="95.50" r="2.60" fill="url(#ball)"/><circle cx="70.22" cy="117.20" r="2.60" fill="url(#ball)"/><circle cx="77.99" cy="127.10" r="2.60" fill="url(#ball)"/><circle cx="85.76" cy="134.20" r="2.60" fill="url(#ball)"/><circle cx="93.53" cy="140.60" r="2.60" fill="url(#ball)"/><circle cx="101.30" cy="147.30" r="2.60" fill="url(#ball)"/><circle cx="109.07" cy="153.50" r="2.60" fill="url(#ball)"/><circle cx="116.84" cy="159.40" r="2.60" fill="url(#ball)"/><circle cx="124.61" cy="164.90" r="2.60" fill="url(#ball)"/><circle cx="132.38" cy="170.60" r="2.60" fill="url(#ball)"/><circle cx="140.15" cy="175.80" r="2.60" fill="url(#ball)"/><circle cx="147.92" cy="181.10" r="2.60" fill="url(#ball)"/><circle cx="155.69" cy="186.40" r="2.60" fill="url(#ball)"/><circle cx="163.46" cy="191.70" r="2.60" fill="url(#ball)"/><circle cx="171.23" cy="196.90" r="2.60" fill="url(#ball)"/><circle cx="179.00" cy="201.90" r="2.60" fill="url(#ball)"/><circle cx="186.77" cy="206.30" r="2.60" fill="url(#ball)"/><circle cx="194.54" cy="210.90" r="2.60" fill="url(#ball)"/><circle cx="202.31" cy="215.10" r="2.60" fill="url(#ball)"/><circle cx="210.08" cy="219.20" r="2.60" fill="url(#ball)"/><circle cx="217.85" cy="223.20" r="2.60" fill="url(#ball)"/><circle cx="225.62" cy="227.10" r="2.60" fill="url(#ball)"/><circle cx="233.39" cy="230.40" r="2.60" fill="url(#ball)"/><circle cx="241.16" cy="233.90" r="2.60" fill="url(#ball)"/><circle cx="248.93" cy="237.00" r="2.60" fill="url(#ball)"/><circle cx="256.70" cy="240.30" r="2.60" fill="url(#ball)"/><circle cx="264.47" cy="243.50" r="2.60" fill="url(#ball)"/><circle cx="272.24" cy="246.70" r="2.60" fill="url(#ball)"/><circle cx="280.01" cy="250.00" r="2.60" fill="url(#ball)"/><circle cx="287.78" cy="253.40" r="2.60" fill="url(#ball)"/><circle cx="295.55" cy="256.30" r="2.60" fill="url(#ball)"/><circle cx="303.32" cy="259.60" r="2.60" fill="url(#ball)"/><circle cx="311.09" cy="263.10" r="2.60" fill="url(#ball)"/><circle cx="318.86" cy="266.90" r="2.60" fill="url(#ball)"/><circle cx="326.63" cy="270.80" r="2.60" fill="url(#ball)"/><circle cx="334.40" cy="275.30" r="2.60" fill="url(#ball)"/><circle cx="342.17" cy="280.60" r="2.60" fill="url(#ball)"/><circle cx="349.94" cy="286.30" r="2.60" fill="url(#ball)"/><circle cx="357.71" cy="293.40" r="2.60" fill="url(#ball)"/><circle cx="365.48" cy="301.60" r="2.60" fill="url(#ball)"/><circle cx="373.25" cy="312.60" r="2.60" fill="url(#ball)"/><circle cx="381.02" cy="326.70" r="2.60" fill="url(#ball)"/><circle cx="388.79" cy="346.50" r="2.60" fill="url(#ball)"/><circle cx="396.56" cy="374.40" r="2.60" fill="url(#ball)"/><circle cx="404.10" cy="417.75" r="2.60" fill="url(#ball)"/></g><line x1="62.45" y1="41.6" x2="62.45" y2="418.65" stroke="#000" stroke-width="1.8"/><line x1="61.55" y1="417.75" x2="530.01" y2="417.75" stroke="#000" stroke-width="1.8"/><line x1="55.2" y1="404.90" x2="62.45" y2="404.90" stroke="#000" stroke-width="1.6"/><text x="50.2" y="410.10" class="tl" text-anchor="end">2.8</text><line x1="55.2" y1="353.10" x2="62.45" y2="353.10" stroke="#000" stroke-width="1.6"/><text x="50.2" y="358.30" class="tl" text-anchor="end">3.0</text><line x1="55.2" y1="301.30" x2="62.45" y2="301.30" stroke="#000" stroke-width="1.6"/><text x="50.2" y="306.50" class="tl" text-anchor="end">3.2</text><line x1="55.2" y1="249.50" x2="62.45" y2="249.50" stroke="#000" stroke-width="1.6"/><text x="50.2" y="254.70" class="tl" text-anchor="end">3.4</text><line x1="55.2" y1="197.70" x2="62.45" y2="197.70" stroke="#000" stroke-width="1.6"/><text x="50.2" y="202.90" class="tl" text-anchor="end">3.6</text><line x1="55.2" y1="145.90" x2="62.45" y2="145.90" stroke="#000" stroke-width="1.6"/><text x="50.2" y="151.10" class="tl" text-anchor="end">3.8</text><line x1="55.2" y1="94.10" x2="62.45" y2="94.10" stroke="#000" stroke-width="1.6"/><text x="50.2" y="99.30" class="tl" text-anchor="end">4.0</text><line x1="55.2" y1="42.30" x2="62.45" y2="42.30" stroke="#000" stroke-width="1.6"/><text x="50.2" y="47.50" class="tl" text-anchor="end">4.2</text><line x1="58.7" y1="379.00" x2="62.45" y2="379.00" stroke="#000" stroke-width="1.6"/><line x1="58.7" y1="327.20" x2="62.45" y2="327.20" stroke="#000" stroke-width="1.6"/><line x1="58.7" y1="275.40" x2="62.45" y2="275.40" stroke="#000" stroke-width="1.6"/><line x1="58.7" y1="223.60" x2="62.45" y2="223.60" stroke="#000" stroke-width="1.6"/><line x1="58.7" y1="171.80" x2="62.45" y2="171.80" stroke="#000" stroke-width="1.6"/><line x1="58.7" y1="120.00" x2="62.45" y2="120.00" stroke="#000" stroke-width="1.6"/><line x1="58.7" y1="68.20" x2="62.45" y2="68.20" stroke="#000" stroke-width="1.6"/><line x1="62.45" y1="417.75" x2="62.45" y2="424.6" stroke="#000" stroke-width="1.6"/><text x="62.45" y="442.6" class="tl" text-anchor="middle">0</text><line x1="104.87" y1="417.75" x2="104.87" y2="424.6" stroke="#000" stroke-width="1.6"/><text x="104.87" y="442.6" class="tl" text-anchor="middle">200</text><line x1="147.30" y1="417.75" x2="147.30" y2="424.6" stroke="#000" stroke-width="1.6"/><text x="147.30" y="442.6" class="tl" text-anchor="middle">400</text><line x1="189.72" y1="417.75" x2="189.72" y2="424.6" stroke="#000" stroke-width="1.6"/><text x="189.72" y="442.6" class="tl" text-anchor="middle">600</text><line x1="232.15" y1="417.75" x2="232.15" y2="424.6" stroke="#000" stroke-width="1.6"/><text x="232.15" y="442.6" class="tl" text-anchor="middle">800</text><line x1="274.57" y1="417.75" x2="274.57" y2="424.6" stroke="#000" stroke-width="1.6"/><text x="274.57" y="442.6" class="tl" text-anchor="middle">1000</text><line x1="316.99" y1="417.75" x2="316.99" y2="424.6" stroke="#000" stroke-width="1.6"/><text x="316.99" y="442.6" class="tl" text-anchor="middle">1200</text><line x1="359.42" y1="417.75" x2="359.42" y2="424.6" stroke="#000" stroke-width="1.6"/><text x="359.42" y="442.6" class="tl" text-anchor="middle">1400</text><line x1="401.84" y1="417.75" x2="401.84" y2="424.6" stroke="#000" stroke-width="1.6"/><text x="401.84" y="442.6" class="tl" text-anchor="middle">1600</text><line x1="444.27" y1="417.75" x2="444.27" y2="424.6" stroke="#000" stroke-width="1.6"/><text x="444.27" y="442.6" class="tl" text-anchor="middle">1800</text><line x1="486.69" y1="417.75" x2="486.69" y2="424.6" stroke="#000" stroke-width="1.6"/><text x="486.69" y="442.6" class="tl" text-anchor="middle">2000</text><line x1="529.11" y1="417.75" x2="529.11" y2="424.6" stroke="#000" stroke-width="1.6"/><text x="529.11" y="442.6" class="tl" text-anchor="middle">2200</text><line x1="83.66" y1="417.75" x2="83.66" y2="421.6" stroke="#000" stroke-width="1.6"/><line x1="126.09" y1="417.75" x2="126.09" y2="421.6" stroke="#000" stroke-width="1.6"/><line x1="168.51" y1="417.75" x2="168.51" y2="421.6" stroke="#000" stroke-width="1.6"/><line x1="210.93" y1="417.75" x2="210.93" y2="421.6" stroke="#000" stroke-width="1.6"/><line x1="253.36" y1="417.75" x2="253.36" y2="421.6" stroke="#000" stroke-width="1.6"/><line x1="295.78" y1="417.75" x2="295.78" y2="421.6" stroke="#000" stroke-width="1.6"/><line x1="338.21" y1="417.75" x2="338.21" y2="421.6" stroke="#000" stroke-width="1.6"/><line x1="380.63" y1="417.75" x2="380.63" y2="421.6" stroke="#000" stroke-width="1.6"/><line x1="423.05" y1="417.75" x2="423.05" y2="421.6" stroke="#000" stroke-width="1.6"/><line x1="465.48" y1="417.75" x2="465.48" y2="421.6" stroke="#000" stroke-width="1.6"/><line x1="507.90" y1="417.75" x2="507.90" y2="421.6" stroke="#000" stroke-width="1.6"/><text x="280.7" y="23.2" class="t1" text-anchor="middle">Li-ion Battery Degradation Process at 0.9C</text><text x="296.4" y="473.2" class="t1" text-anchor="middle">Capacity (mAh)</text><text transform="translate(21.8 230.5) rotate(-90)" class="tt" text-anchor="middle">Voltage (V)</text><rect x="391.2" y="48.6" width="100.2" height="178.2" fill="#fff" stroke="#8c8c8c" stroke-width="1.5"/><rect x="405.20" y="55.30" width="4.60" height="4.60" fill="#404040"/><text x="425.2" y="62.20" class="lt">3rd-DChg</text><circle cx="407.50" cy="73.70" r="2.60" fill="#f5242b"/><text x="425.2" y="78.30" class="lt">50th-DChg</text><path d="M407.50 87.17L410.60 92.13L404.40 92.13Z" fill="#1560e8"/><text x="425.2" y="94.40" class="lt">100th-DChg</text><path d="M407.50 108.54L410.60 103.58L404.40 103.58Z" fill="#209a55"/><text x="425.2" y="110.50" class="lt">150th-DChg</text><path d="M407.50 119.10L410.40 122.00L407.50 124.90L404.60 122.00Z" fill="#a060e0"/><text x="425.2" y="126.60" class="lt">200th-DChg</text><path d="M404.50 138.10L409.30 135.10L409.30 141.10Z" fill="#d3960f"/><text x="425.2" y="142.70" class="lt">250th-DChg</text><path d="M410.50 154.20L405.70 151.20L405.70 157.20Z" fill="#17cfd2"/><text x="425.2" y="158.80" class="lt">300th-DChg</text><polygon points="410.30,170.30 408.90,172.72 406.10,172.72 404.70,170.30 406.10,167.88 408.90,167.88" fill="#6c3437"/><text x="425.2" y="174.90" class="lt">350th-DChg</text><polygon points="407.50,183.50 408.35,185.63 410.64,185.78 408.88,187.25 409.44,189.47 407.50,188.25 405.56,189.47 406.12,187.25 404.36,185.78 406.65,185.63" fill="#7c7a12"/><text x="425.2" y="191.00" class="lt">400th-DChg</text><polygon points="407.50,199.85 410.31,201.89 409.23,205.19 405.77,205.19 404.69,201.89" fill="#fb5a0c"/><text x="425.2" y="207.10" class="lt">450th-DChg</text><circle cx="407.50" cy="218.60" r="2.60" fill="url(#ball)"/><text x="425.2" y="223.20" class="lt">500th-DChg</text>
</svg>
</body></html>
